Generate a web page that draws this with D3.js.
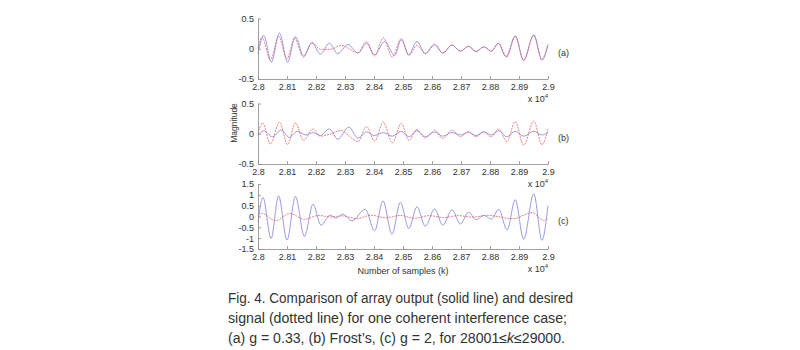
<!DOCTYPE html>
<html lang="en">
<head>
<meta charset="UTF-8">
<title>Fig. 4</title>
<style>
  body { margin: 0; background: #fff; }
  svg text { font-family: "Liberation Sans", Arial, sans-serif; fill: #333; }
</style>
</head>
<body>
<div id="chart"></div>
<script src="https://cdn.jsdelivr.net/npm/d3@7"></script>
<script>
// x ticks (sample index) and their labels (x 10^4)
const xTicks = [28000, 28100, 28200, 28300, 28400, 28500, 28600, 28700, 28800, 28900, 29000];
const xTickLabels = ["2.8", "2.81", "2.82", "2.83", "2.84", "2.85", "2.86", "2.87", "2.88", "2.89", "2.9"];
const yTicksAB = [-0.5, 0, 0.5];
const yTicksC = [-1.5, -1, -0.5, 0, 0.5, 1, 1.5];
const panelNames = ["(a)", "(b)", "(c)"];

const aBlue = [[28000,-0.08],[28020,0.22],[28046,-0.22],[28074,0.26],[28102,-0.22],[28129,0.20],[28157,-0.12],[28186,0.10],[28215,-0.09],[28246,0.09],[28275,-0.08],[28310,0.07],[28345,-0.07],[28374,0.09],[28402,-0.10],[28437,0.12],[28471,-0.11],[28494,0.15],[28520,-0.10],[28548,0.12],[28577,-0.08],[28609,0.08],[28637,-0.07],[28669,0.06],[28698,-0.04],[28726,0.04],[28752,-0.05],[28778,0.03],[28805,-0.04],[28828,0.09],[28855,-0.13],[28887,0.21],[28916,-0.19],[28951,0.23],[28979,-0.19],[29000,0.07]];
const aRed = [[28000,0.00],[28014,0.19],[28043,-0.19],[28071,0.21],[28100,-0.17],[28126,0.18],[28157,-0.14],[28186,0.10],[28215,-0.01],[28249,-0.01],[28287,0.055],[28345,-0.066],[28374,0.12],[28402,-0.12],[28432,0.18],[28463,-0.14],[28494,0.17],[28520,-0.11],[28548,0.055],[28577,-0.08],[28609,0.055],[28637,-0.07],[28669,0.06],[28698,-0.04],[28726,0.04],[28752,-0.04],[28778,0.03],[28805,-0.04],[28830,0.09],[28858,-0.14],[28887,0.21],[28916,-0.19],[28951,0.22],[28979,-0.17],[29000,0.06]];
const bBlue = [[28000,-0.03],[28020,0.05],[28050,-0.05],[28080,0.06],[28108,-0.06],[28135,0.04],[28165,-0.02],[28190,0.02],[28215,-0.03],[28246,0.08],[28275,-0.09],[28313,0.11],[28345,-0.07],[28374,0.03],[28402,-0.03],[28432,0.02],[28463,-0.04],[28494,0.04],[28520,-0.05],[28548,0.05],[28577,-0.05],[28609,0.03],[28637,-0.04],[28669,0.02],[28698,-0.02],[28726,0.02],[28752,-0.03],[28778,0.03],[28805,-0.02],[28830,0.05],[28858,-0.05],[28887,0.04],[28916,-0.04],[28951,0.04],[28979,-0.02],[29000,0.02]];
const bRed = [[28000,0.00],[28016,0.18],[28043,-0.17],[28074,0.19],[28102,-0.18],[28129,0.18],[28157,-0.11],[28189,0.08],[28215,-0.04],[28246,-0.01],[28287,0.055],[28315,-0.04],[28345,-0.13],[28374,0.12],[28402,-0.12],[28432,0.19],[28463,-0.15],[28494,0.17],[28520,-0.11],[28548,0.07],[28577,-0.07],[28609,0.06],[28637,-0.08],[28669,0.06],[28698,-0.05],[28726,0.04],[28752,-0.05],[28778,0.03],[28805,-0.05],[28830,0.08],[28858,-0.13],[28887,0.20],[28916,-0.19],[28951,0.21],[28979,-0.18],[29000,0.08]];
const cBlue = [[28000,-0.28],[28017,0.88],[28045,-1.02],[28071,0.95],[28100,-1.09],[28129,0.92],[28160,-0.92],[28190,0.57],[28217,-0.40],[28249,0.06],[28269,-0.08],[28292,0.11],[28324,-0.20],[28370,0.34],[28402,-0.66],[28431,0.72],[28462,-0.82],[28491,0.65],[28520,-0.55],[28548,0.45],[28577,-0.45],[28609,0.35],[28637,-0.40],[28669,0.30],[28698,-0.35],[28726,0.20],[28752,-0.15],[28778,0.05],[28805,-0.12],[28830,0.33],[28859,-0.62],[28887,0.78],[28916,-1.05],[28951,1.05],[28979,-1.10],[29000,0.50]];
const cRed = [[28000,0.08],[28015,0.14],[28060,-0.20],[28110,0.14],[28160,-0.13],[28210,0.05],[28250,-0.02],[28290,0.03],[28340,-0.10],[28390,0.06],[28440,-0.06],[28490,0.05],[28540,-0.08],[28590,0.04],[28640,-0.05],[28690,0.04],[28740,-0.03],[28790,0.05],[28880,-0.10],[28945,0.18],[28985,-0.18],[29000,-0.10]];

const svg = d3.select("#chart").append("svg")
  .attr("width", 800)
  .attr("height", 350);

const x = d3.scaleLinear().domain([28000, 29000]).range([258, 548]);

const panels = [
  { name: panelNames[0], ticks: yTicksAB, dom: [-0.5, 0.5], range: [79, 18.5], series: [aBlue, aRed] },
  { name: panelNames[1], ticks: yTicksAB, dom: [-0.5, 0.5], range: [164, 103.5], series: [bBlue, bRed] },
  { name: panelNames[2], ticks: yTicksC, dom: [-1.5, 1.5], range: [249, 184], series: [cBlue, cRed] }
];
const colors = ["#7a7ae0", "#e05a5a"];
const dashes = [null, "2,1"];

panels.forEach(function(p) {
  const y = d3.scaleLinear().domain(p.dom).range(p.range);
  const g = svg.append("g");

  const line = d3.line()
    .x(function(d) { return x(d[0]); })
    .y(function(d) { return y(d[1]); })
    .curve(d3.curveMonotoneX);

  p.series.forEach(function(s, i) {
    g.append("path")
      .datum(s)
      .attr("fill", "none")
      .attr("stroke", colors[i])
      .attr("stroke-width", 0.75)
      .attr("stroke-dasharray", dashes[i])
      .attr("d", line);
  });

  // left axis, ticks pointing in
  const ya = g.append("g")
    .attr("transform", "translate(" + x.range()[0] + ",0)")
    .call(d3.axisLeft(y).tickValues(p.ticks).tickSize(-3).tickSizeOuter(0).tickPadding(4)
      .tickFormat(function(d) { return String(d); }));
  // bottom axis, ticks pointing up
  const xa = g.append("g")
    .attr("transform", "translate(0," + p.range[0] + ")")
    .call(d3.axisBottom(x).tickValues(xTicks).tickSize(-3).tickSizeOuter(0).tickPadding(5)
      .tickFormat(function(d, i) { return xTickLabels[i]; }));

  [ya, xa].forEach(function(a) {
    a.selectAll("path, line").attr("stroke", "#888").attr("stroke-width", 0.8);
    a.selectAll("text").attr("font-size", 9).attr("fill", "#444")
      .attr("font-family", "Liberation Sans, Arial, sans-serif");
  });

  // x 10^4
  const mult = g.append("text")
    .attr("x", 548).attr("y", p.range[0] + 23)
    .attr("text-anchor", "end")
    .attr("font-size", 9)
    .attr("fill", "#444");
  mult.append("tspan").text("x 10");
  mult.append("tspan").attr("font-size", 6).attr("dy", -4).text("4");

  g.append("text")
    .attr("x", 558).attr("y", y(0) + 7)
    .attr("font-size", 9)
    .attr("fill", "#444")
    .text(p.name);
});

svg.append("text")
  .attr("transform", "translate(237,123) rotate(-90)")
  .attr("text-anchor", "middle")
  .attr("font-size", 8.5)
  .attr("fill", "#444")
  .text("Magnitude");

svg.append("text")
  .attr("x", 403).attr("y", 274)
  .attr("text-anchor", "middle")
  .attr("font-size", 9)
  .attr("fill", "#444")
  .text("Number of samples (k)");

// caption
const caption = svg.append("g").attr("font-size", 14);
caption.append("text").attr("x", 228).attr("y", 303)
  .attr("textLength", 345).attr("lengthAdjust", "spacingAndGlyphs")
  .text("Fig. 4. Comparison of array output (solid line) and desired");
caption.append("text").attr("x", 228).attr("y", 323)
  .attr("textLength", 339).attr("lengthAdjust", "spacingAndGlyphs")
  .text("signal (dotted line) for one coherent interference case;");
const l3 = caption.append("text").attr("x", 228).attr("y", 343)
  .attr("textLength", 337).attr("lengthAdjust", "spacingAndGlyphs");
l3.append("tspan").text("(a) g = 0.33, (b) Frost\u2019s, (c) g = 2, for 28001\u2264");
l3.append("tspan").attr("font-style", "italic").text("k");
l3.append("tspan").text("\u226429000.");
</script>
</body>
</html>
